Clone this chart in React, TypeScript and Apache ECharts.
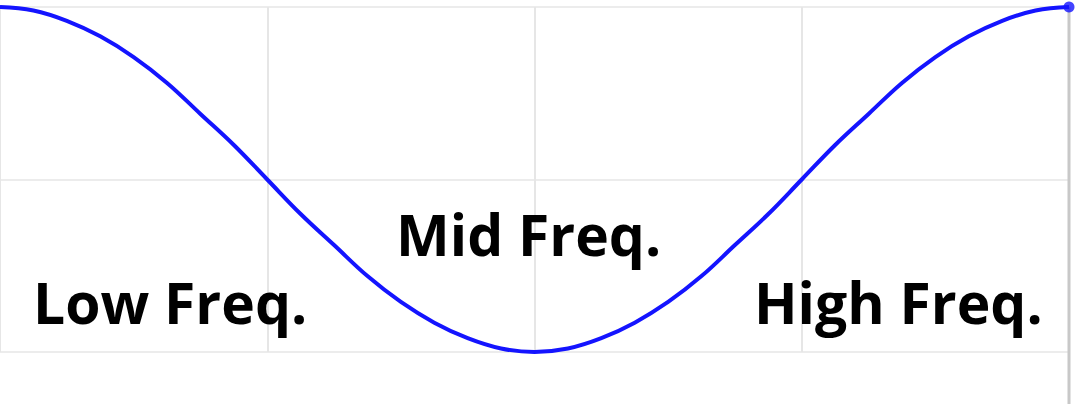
import React, { useEffect, useRef } from "react";
import * as echarts from "echarts";

const xValues = [
  0, 0.125, 0.25, 0.375, 0.5, 0.625, 0.75, 0.875, 1, 1.125, 1.25, 1.375, 1.5, 1.625, 1.75, 1.875, 2,
  2.125, 2.25, 2.375, 2.5, 2.625, 2.75, 2.875, 3, 3.125, 3.25, 3.375, 3.5, 3.625, 3.75, 3.875, 4,
];
const yValues = [
  2, 1.98, 1.92, 1.83, 1.71, 1.56, 1.38, 1.2, 1.0, 0.8, 0.62, 0.44, 0.29, 0.17, 0.08, 0.02, 0,
  0.02, 0.08, 0.17, 0.29, 0.44, 0.62, 0.8, 1.0, 1.2, 1.38, 1.56, 1.71, 1.83, 1.92, 1.98, 2,
];
const bandLabels = ["Low Freq.", "Mid Freq.", "High Freq."];
const labelLefts = [33, 396, 754];
const labelCapTops = [285, 217, 285];

export default function App() {
  const ref = useRef<HTMLDivElement>(null);
  useEffect(() => {
    if (!ref.current) return;
    const chart = echarts.init(ref.current, null, { renderer: "svg" });
    const points = xValues.map((x, i) => [x, yValues[i]]);
    const font = "'Open Sans', 'Liberation Sans', sans-serif";
    chart.setOption({
      animation: false,
      backgroundColor: "#ffffff",
      grid: { left: 0, right: 11, top: 7, bottom: 52 },
      xAxis: {
        type: "value",
        min: 0,
        max: 4,
        interval: 1,
        axisLine: { show: false },
        axisTick: { show: false },
        axisLabel: { show: false },
        splitLine: { show: true, lineStyle: { color: "#e6e6e6", width: 2 } },
      },
      yAxis: {
        type: "value",
        min: 0,
        max: 2,
        interval: 1,
        axisLine: { show: false },
        axisTick: { show: false },
        axisLabel: { show: false },
        splitLine: { show: true, lineStyle: { color: "#ececec", width: 2 } },
      },
      series: [
        {
          type: "line",
          data: points,
          smooth: 0.4,
          showSymbol: false,
          lineStyle: { color: "#1414ff", width: 4 },
          z: 5,
        },
        {
          type: "scatter",
          data: [points[points.length - 1]],
          symbolSize: 11,
          itemStyle: { color: "#1414ff" },
          z: 6,
        },
      ],
    });
    const right = chart.convertToPixel({ gridIndex: 0 }, [4, 2]) as number[];
    chart.setOption({
      graphic: [
        {
          type: "line",
          shape: { x1: right[0], y1: right[1], x2: right[0], y2: 404 },
          style: { stroke: "#c8c8c8", lineWidth: 3 },
          z: 2,
        },
        ...bandLabels.map((t, i) => ({
          type: "text",
          left: labelLefts[i],
          top: labelCapTops[i] - 12,
          z: 10,
          style: {
            text: t,
            fill: "#000000",
            font: `bold 57px ${font}`,
          },
        })),
      ],
    });
    return () => chart.dispose();
  }, []);
  return (
    <div
      ref={ref}
      style={{ position: "fixed", left: 0, top: 0, width: 1080, height: 404 }}
    />
  );
}
